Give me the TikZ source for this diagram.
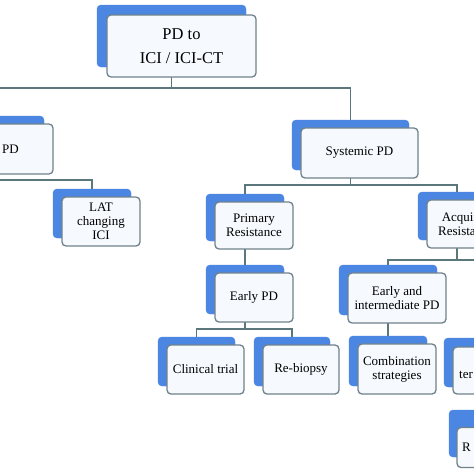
\documentclass[tikz,border=0pt]{standalone}
\usepackage{fontspec}
\setmainfont{Liberation Serif}
\usetikzlibrary{backgrounds}
\definecolor{cardblue}{RGB}{74,134,226}
\definecolor{cardline}{RGB}{112,130,140}
\definecolor{cardfill}{RGB}{246,249,253}
\definecolor{linkcol}{RGB}{90,120,124}
\tikzset{
  back/.style={fill=cardblue,draw=cardblue,rounded corners=4pt,inner sep=0pt},
  front/.style={fill=cardfill,draw=cardline,line width=1.3pt,rounded corners=4pt,
    align=center,inner sep=0pt,font=\fontsize{13}{13.8}\selectfont},
  link/.style={draw=linkcol,line width=1.8pt},
}
\begin{document}
\begin{tikzpicture}[x=1pt,y=-1pt]
  \path[use as bounding box,clip] (0,0) rectangle (474,474);
  \begin{scope}[every node/.style={back}]
  \node (top) at (171.5,36) [minimum width=149pt,minimum height=62pt] {};
  \node (pd) at (-12,141) [minimum width=112pt,minimum height=50pt] {};
  \node (sys) at (350.5,145) [minimum width=117pt,minimum height=50pt] {};
  \node (lat) at (92,213.5) [minimum width=78pt,minimum height=49pt] {};
  \node (prim) at (245,217.5) [minimum width=78pt,minimum height=47pt] {};
  \node (acq) at (457,216) [minimum width=78pt,minimum height=48pt] {};
  \node (early) at (245,289.5) [minimum width=78pt,minimum height=49pt] {};
  \node (eip) at (388,290) [minimum width=98pt,minimum height=50pt] {};
  \node (clin) at (196.5,361.5) [minimum width=77pt,minimum height=49pt] {};
  \node (rebio) at (292,361.5) [minimum width=76pt,minimum height=49pt] {};
  \node (comb) at (388,361) [minimum width=78pt,minimum height=50pt] {};
  \node (ter) at (483,362.5) [minimum width=78pt,minimum height=49pt] {};
  \node (r) at (488,433.5) [minimum width=78pt,minimum height=47pt] {};
  \end{scope}
  \begin{scope}[every node/.style={front}]
  \node (top-f) at ([shift={(10,10)}]top) [minimum width=149pt,minimum height=62pt,
    font=\fontsize{16.5}{24}\selectfont] {PD to\\ICI / ICI-CT};
  \node (pd-f) at ([shift={(9,8)}]pd) [minimum width=112pt,minimum height=50pt] {};
  \node (sys-f) at ([shift={(9,8)}]sys) [minimum width=117pt,minimum height=50pt] {Systemic PD};
  \node (lat-f) at ([shift={(9,8)}]lat) [minimum width=78pt,minimum height=49pt] {LAT\\changing\\ICI};
  \node (prim-f) at ([shift={(9,8)}]prim) [minimum width=78pt,minimum height=47pt] {Primary\\Resistance};
  \node (acq-f) at ([shift={(9,8)}]acq) [minimum width=78pt,minimum height=48pt] {Acquired\\Resistance};
  \node (early-f) at ([shift={(9,8)}]early) [minimum width=78pt,minimum height=49pt] {Early PD};
  \node (eip-f) at ([shift={(9,8)}]eip) [minimum width=98pt,minimum height=50pt] {Early and\\intermediate PD};
  \node (clin-f) at ([shift={(9,8)}]clin) [minimum width=77pt,minimum height=49pt] {Clinical trial};
  \node (rebio-f) at ([shift={(9,8)}]rebio) [minimum width=76pt,minimum height=49pt] {Re-biopsy};
  \node (comb-f) at ([shift={(9,8)}]comb) [minimum width=78pt,minimum height=50pt] {Combination\\strategies};
  \node (ter-f) at ([shift={(9,8)}]ter) [minimum width=78pt,minimum height=47pt] {};
  \node (r-f) at ([shift={(8,14)}]r) [minimum width=78pt,minimum height=40pt] {};
  \end{scope}
  % visible parts of the cut-off labels
  \begin{scope}[every node/.style={inner sep=0pt,font=\fontsize{13}{13.8}\selectfont}]
  \node (pd-t) at (10.5,149) {PD};
  \node (ter-t) [anchor=base west] at (459,378) {ter};
  \node (r-t) [anchor=west] at (462,447) {R};
  \end{scope}
  \begin{scope}[on background layer]
  \fill[white] (0,0) rectangle (474,474);
  \path[link] (top.south) -- ++(0,21) -| (sys.north);
  \path[link] (top.south) -- ++(0,21) -| (pd.north);
  \path[link] (pd.south) -- ++(0,14) -| (lat.north);
  \path[link] (sys.south) -- ++(0,15) -| (prim.north);
  \path[link] (sys.south) -- ++(0,15) -| (acq.north);
  \path[link] (prim.south) -- (early.north);
  \path[link] (early.south) -- ++(0,15) -| (clin.north);
  \path[link] (early.south) -- ++(0,15) -| (rebio.north);
  \path[link] (acq.south) -- ++(0,20) -| (eip.north);
  \path[link] (acq.south) -- ++(0,20) -| (ter.north);
  \path[link] (eip.south) -- (comb.north);
  \path[link] (ter.south) -- ++(0,12) -| (r.north);
  \end{scope}
\end{tikzpicture}
\end{document}
